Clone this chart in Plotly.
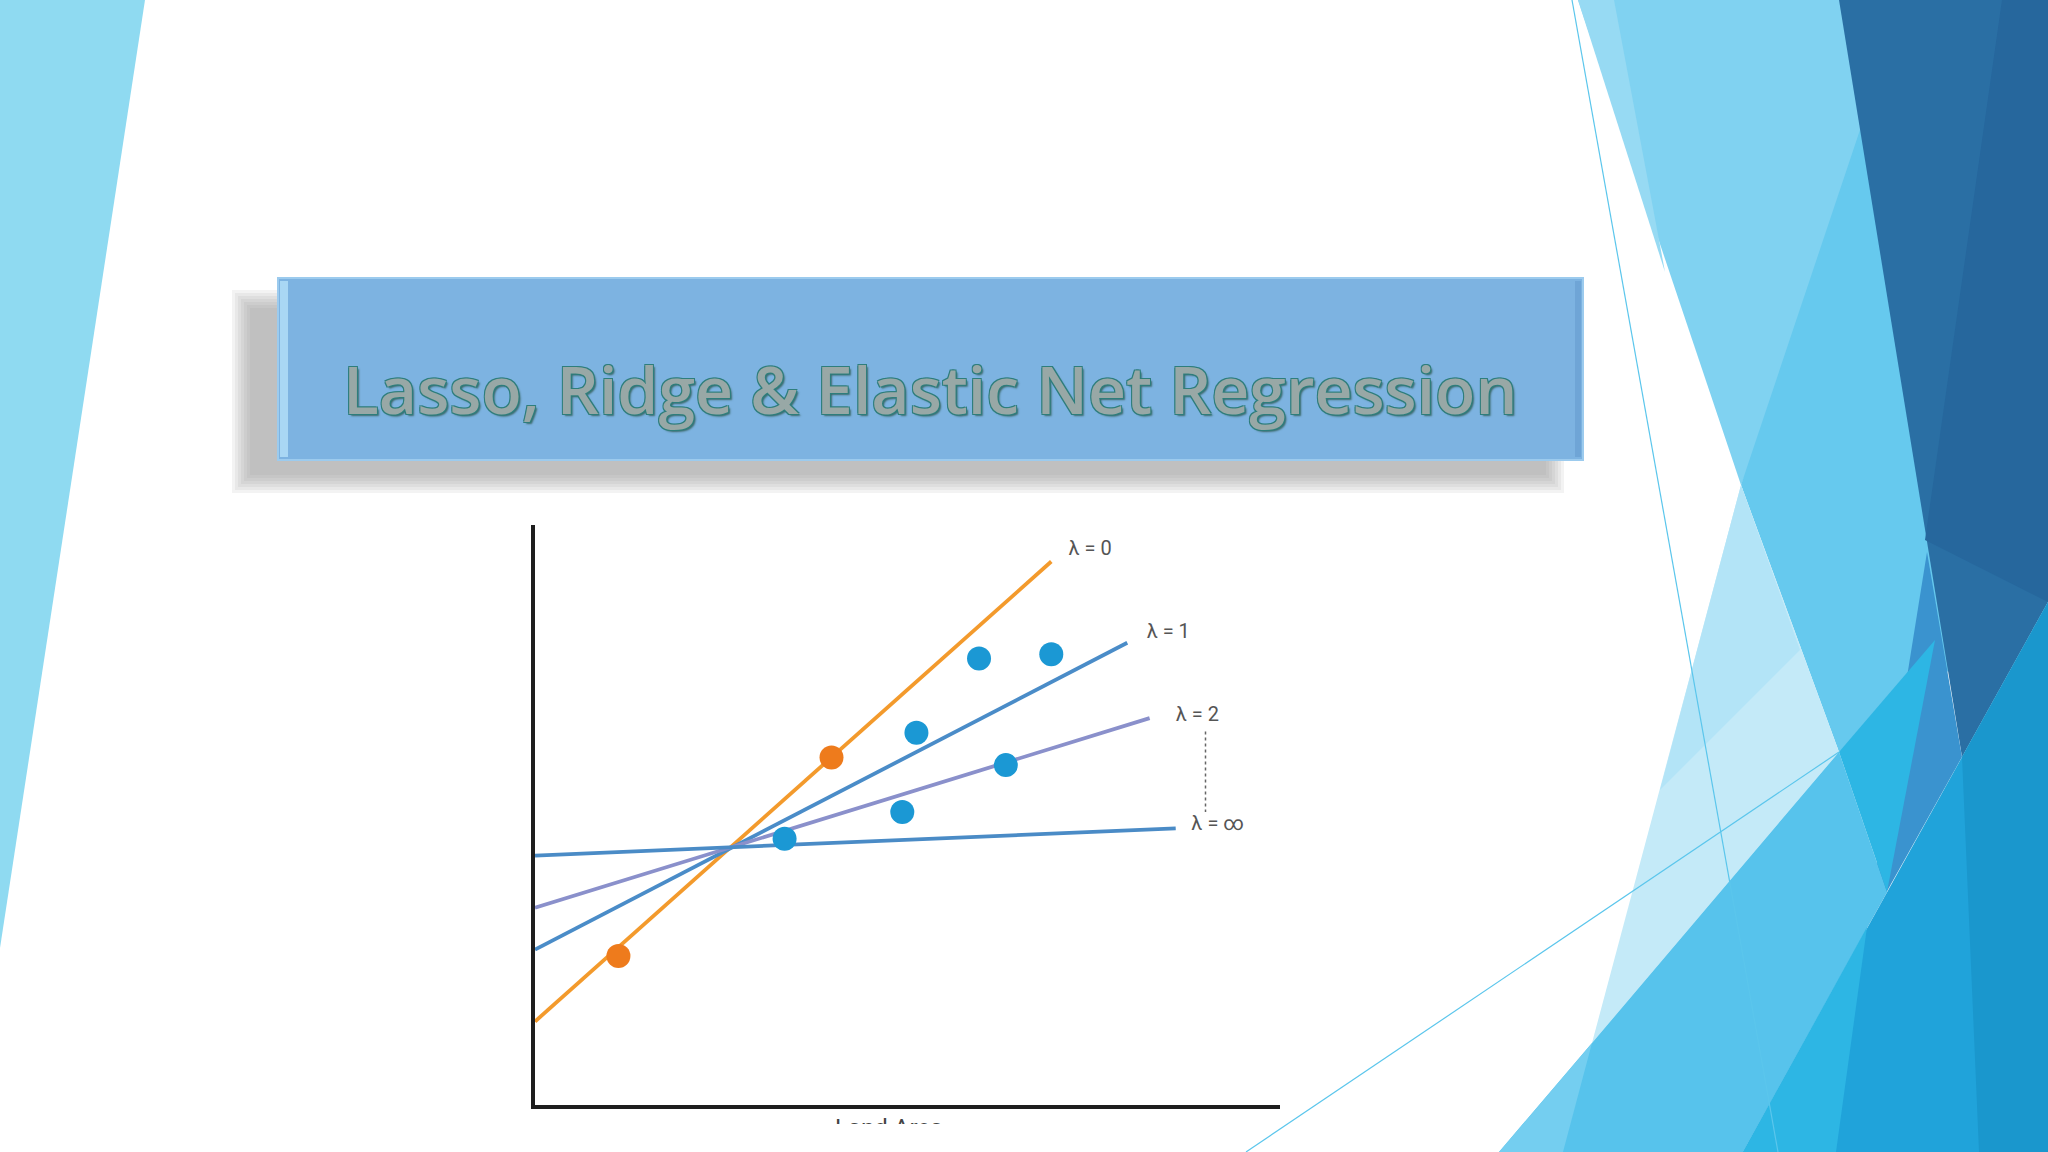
import plotly.graph_objects as go

# ---- chart data (axis units 0..10) ----
line_names = ["λ = 0", "λ = 1", "λ = 2", "λ = ∞"]
line_x_start = [0.0, 0.0, 0.0, 0.0]
line_x_end = [6.93, 7.95, 8.25, 8.60]
line_y_start = [1.44, 2.68, 3.40, 4.30]
line_y_end = [9.37, 7.97, 6.67, 4.77]
line_colors = ["#F39A2C", "#4A8CC8", "#8A90CB", "#4A8BC6"]

label_x = [7.16, 8.21, 8.60, 8.81]
label_y = [9.57, 8.13, 6.71, 4.82]

orange_x = [1.12, 3.98]
orange_y = [2.57, 5.99]

blue_x = [5.96, 6.93, 5.12, 6.32, 4.93, 3.35]
blue_y = [7.70, 7.77, 6.42, 5.86, 5.05, 4.59]

bracket_x = [9.0, 9.0]
bracket_y = [6.44, 5.05]

# cropped y title, only a faint stroke is left of it
ytitle_x = [-0.22, -0.22]
ytitle_y = [2.95, 5.32]

x_title = "Land Area"
title = "Lasso, Ridge & Elastic Net Regression"

W, H = 2048, 1152


def px(x, y):
    """pixel position on the slide -> paper coords"""
    return x / W, 1 - y / H


def poly(points, color, opacity=1.0, layer="below"):
    path = ""
    for i, (x, y) in enumerate(points):
        u, v = px(x, y)
        path += ("M" if i == 0 else "L") + f"{u:.5f},{v:.5f} "
    return dict(type="path", path=path + "Z", xref="paper", yref="paper",
                fillcolor=color, opacity=opacity, line=dict(width=0), layer=layer)


def rect(x0, y0, x1, y1, color, opacity=1.0, line=None, layer="below"):
    u0, v0 = px(x0, y0)
    u1, v1 = px(x1, y1)
    return dict(type="rect", xref="paper", yref="paper", x0=u0, y0=v1, x1=u1, y1=v0,
                fillcolor=color, opacity=opacity,
                line=line if line else dict(width=0), layer=layer)


def seg(x0, y0, x1, y1, color, width=1.0):
    u0, v0 = px(x0, y0)
    u1, v1 = px(x1, y1)
    return dict(type="line", xref="paper", yref="paper", x0=u0, y0=v0, x1=u1, y1=v1,
                line=dict(color=color, width=width), layer="below")


fig = go.Figure()

for i, name in enumerate(line_names):
    fig.add_trace(go.Scatter(
        x=[line_x_start[i], line_x_end[i]], y=[line_y_start[i], line_y_end[i]],
        mode="lines", line=dict(color=line_colors[i], width=3.8), name=name,
        showlegend=False))

fig.add_trace(go.Scatter(x=bracket_x, y=bracket_y, mode="lines",
                         line=dict(color="#666666", width=1.5, dash="dot"),
                         showlegend=False))
fig.add_trace(go.Scatter(x=ytitle_x, y=ytitle_y, mode="lines",
                         line=dict(color="#AAAAAA", width=1.5, dash="dot"),
                         cliponaxis=False, showlegend=False))

fig.add_trace(go.Scatter(x=orange_x, y=orange_y, mode="markers",
                         marker=dict(color="#EE7B1C", size=24), showlegend=False))
fig.add_trace(go.Scatter(x=blue_x, y=blue_y, mode="markers",
                         marker=dict(color="#1B98D4", size=24), showlegend=False))

fig.add_trace(go.Scatter(x=label_x, y=label_y, mode="text", text=line_names,
                         textposition="middle right",
                         textfont=dict(family="Roboto", size=20, color="#555555"),
                         cliponaxis=False, showlegend=False))

shapes = [
    # left stripe
    poly([(0, 0), (145, 0), (0, 948)], "#8FDAF1"),
    # right facets (back to front)
    poly([(1578, 0), (1900, 0), (1900, 110), (1741, 485)], "#80D2F1"),
    poly([(1578, 0), (1614, 0), (1665, 272)], "#97DAF3"),
    poly([(1870, 100), (1741, 485), (1839, 752), (1990, 640), (1990, 100)], "#66C9EE"),
    poly([(1839, 0), (2048, 0), (2048, 602), (1962, 757)], "#2A6FA4"),
    poly([(2002, 0), (2048, 0), (2048, 602), (1925, 540)], "#26679D"),
    poly([(1927, 552), (1962, 757), (1867, 927)], "#3A93CF"),
    poly([(1741, 485), (1839, 752), (1592, 1043)], "#C4EAF8"),
    poly([(1741, 485), (1800, 650), (1660, 790)], "#B3E4F7"),
    poly([(1499, 1152), (1592, 1043), (1839, 752), (1887, 892), (1743, 1152)], "#57C3EC"),
    poly([(1499, 1152), (1592, 1043), (1563, 1152)], "#74CEF0"),
    poly([(1839, 752), (1935, 640), (1887, 892)], "#2DB6E4"),
    poly([(2048, 602), (1743, 1152), (2048, 1152)], "#20A3DA"),
    poly([(1867, 927), (1743, 1152), (1836, 1152)], "#2DB6E4"),
    poly([(1962, 757), (2048, 602), (2048, 1152), (1979, 1152)], "#1A97CD"),
    seg(1572, 0, 1778, 1152, "#5BC6EC", 1.2),
    seg(1246, 1152, 1839, 752, "#5BC6EC", 1.2),
]

# soft shadow of the title box, offset to the lower left
for k in range(7):
    d = 10 - 3 * k
    shapes.append(rect(242 - d, 300 - d, 1554 + d, 483 + d, "#8E8E96", 0.11))

shapes += [
    # title box
    rect(278, 278, 1583, 460, "#7DB3E1", line=dict(color="#9CCBEE", width=2)),
    rect(280, 281, 288, 457, "#A9D7F4"),
    rect(1575, 281, 1581, 457, "#6FA5D6"),
]

fig.update_layout(
    width=W, height=H, autosize=False,
    margin=dict(l=0, r=0, t=0, b=0),
    paper_bgcolor="#FFFFFF", plot_bgcolor="rgba(0,0,0,0)",
    shapes=shapes,
    xaxis=dict(domain=[535 / W, 1280 / W], range=[0, 10], showgrid=False,
               zeroline=False, showticklabels=False, ticks="",
               showline=True, linecolor="#1E1E1E", linewidth=4),
    yaxis=dict(domain=[1 - 1105 / H, 1 - 525 / H], range=[0, 10], showgrid=False,
               zeroline=False, showticklabels=False, ticks="",
               showline=True, linecolor="#1E1E1E", linewidth=4),
    annotations=[
        dict(text=title, xref="paper", yref="paper", x=930 / W, y=1 - 388 / H,
             xanchor="center", yanchor="middle", showarrow=False,
             font=dict(family="Open Sans", size=66, weight=600, color="#98A8A6",
                       shadow="1px 1px 0 #2E7E7C, -1px -1px 0 #2E7E7C, 1px -1px 0 #2E7E7C, "
                              "-1px 1px 0 #2E7E7C, 2px 2px 2px #3C6A6A")),
        # axis title cut in half, as in the cropped picture
        dict(text=x_title, xref="x", yref="paper", x=4.75, y=1 - 1112 / H,
             xanchor="center", yanchor="top", showarrow=False,
             height=10, valign="top",
             font=dict(family="Roboto", size=24, color="#444444")),
    ],
)

fig.write_html("out.html", config={"displayModeBar": False},
               post_script="document.body.style.margin='0';")
